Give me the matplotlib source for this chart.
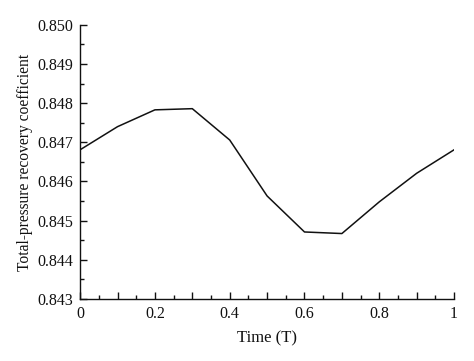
import matplotlib
matplotlib.use("Agg")
import matplotlib.pyplot as plt
from matplotlib.ticker import MultipleLocator, FuncFormatter

time_t = [0, 0.1, 0.2, 0.3, 0.4, 0.5, 0.6, 0.7, 0.8, 0.9, 1.0]
recovery = [0.84681, 0.84740, 0.84783, 0.84786, 0.84706, 0.84563,
            0.84471, 0.84467, 0.84548, 0.84621, 0.84681]

plt.rcParams['font.family'] = ['Liberation Serif', 'DejaVu Serif']

fig = plt.figure(figsize=(4.74, 3.61), dpi=100)
ax = fig.add_axes([0.169, 0.172, 0.789, 0.759])

ax.plot(time_t, recovery, color="#111111", linewidth=1.1)

ax.set_xlim(0, 1)
ax.set_ylim(0.843, 0.850)

ax.spines['top'].set_visible(False)
ax.spines['right'].set_visible(False)
for s in ('left', 'bottom'):
    ax.spines[s].set_linewidth(1.0)
    ax.spines[s].set_color("#111111")

ax.xaxis.set_major_locator(MultipleLocator(0.1))
ax.xaxis.set_minor_locator(MultipleLocator(0.05))
ax.yaxis.set_major_locator(MultipleLocator(0.001))
ax.yaxis.set_minor_locator(MultipleLocator(0.0005))


def xfmt(v, pos):
    i = int(round(v * 10))
    if i % 2:
        return ""
    if i == 0:
        return "0"
    if i == 10:
        return "1"
    return "%.1f" % v


ax.xaxis.set_major_formatter(FuncFormatter(xfmt))
ax.yaxis.set_major_formatter(FuncFormatter(lambda v, p: "%.3f" % v))

ax.tick_params(which='major', direction='in', length=5, width=1.0,
               labelsize=11.5, colors="#111111", pad=5)
ax.tick_params(which='minor', direction='in', length=3, width=1.0,
               colors="#111111")

ax.set_xlabel("Time (T)", fontsize=12, color="#111111", labelpad=6)
ax.set_ylabel("Total-pressure recovery coefficient", fontsize=11.2,
              color="#111111", labelpad=3)

fig.savefig("out.png", dpi=100)
